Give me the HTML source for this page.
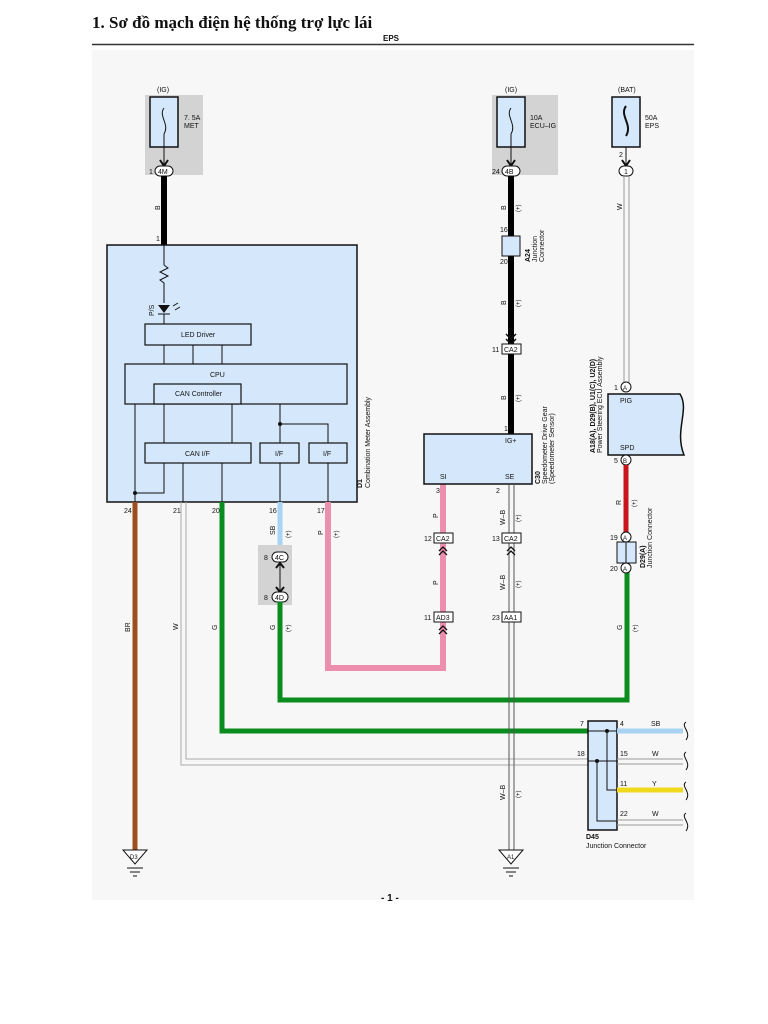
<!DOCTYPE html>
<html><head><meta charset="utf-8"><style>
html,body{margin:0;padding:0;background:#fff;width:768px;height:1024px;overflow:hidden}
svg{display:block}
text{font-family:"Liberation Sans",sans-serif;fill:#111}
.s{font-size:7px}
.m{font-size:8px}
</style></head><body>
<svg width="768" height="1024" viewBox="0 0 768 1024" xmlns="http://www.w3.org/2000/svg">
<rect x="92" y="50" width="602" height="850" fill="#f7f7f7"/>
<text x="92" y="28" style="font-family:'Liberation Serif',serif;font-weight:bold;font-size:17px">1. Sơ đồ mạch điện hệ thống trợ lực lái</text>
<text x="383" y="41" style="font-size:8px;font-weight:bold">EPS</text>
<line x1="92" y1="44.5" x2="694" y2="44.5" stroke="#333" stroke-width="1.5"/>

<!-- left fuse -->
<rect x="145" y="95" width="58" height="80" fill="#d3d3d3"/>
<rect x="150" y="97" width="28" height="50" fill="#d5e8fb" stroke="#111" stroke-width="1.5"/>
<path d="M164 108 C158 116 170 124 164 134" fill="none" stroke="#111"/>
<text x="157" y="92" class="s">(IG)</text>
<text x="184" y="120" class="s">7. 5A</text><text x="184" y="128" class="s">MET</text>
<line x1="164" y1="134" x2="164" y2="165" stroke="#111"/>
<path d="M160 160 L164 166 L168 160" fill="none" stroke="#111" stroke-width="2"/>
<rect x="155" y="166" width="18" height="10" rx="5" fill="#fff" stroke="#111"/>
<text x="158" y="174" class="s">4M</text><text x="149" y="174" class="s">1</text>
<line x1="164" y1="176" x2="164" y2="245" stroke="#000" stroke-width="6"/>
<text x="160" y="210" class="s" transform="rotate(-90 160 210)">B</text>
<text x="156" y="241" class="s">1</text>

<!-- D1 box -->
<rect x="107" y="245" width="250" height="257" fill="#d5e8fb" stroke="#111" stroke-width="1.5"/>
<line x1="164" y1="245" x2="164" y2="265" stroke="#111"/>
<path d="M164 265 l4 3 l-8 4 l8 4 l-8 4 l4 3 v20" fill="none" stroke="#111"/>
<path d="M158 305 h12 l-6 8 z" fill="#111"/><line x1="158" y1="314" x2="170" y2="314" stroke="#111"/>
<line x1="164" y1="314" x2="164" y2="324" stroke="#111"/>
<path d="M173 306 l5 -3 M175 310 l5 -3" stroke="#111"/>
<text x="154" y="316" class="s" transform="rotate(-90 154 316)">P/S</text>
<rect x="145" y="324" width="106" height="21" fill="#d5e8fb" stroke="#111" stroke-width="1.2"/>
<text x="181" y="337" class="s">LED Driver</text>
<line x1="164" y1="345" x2="164" y2="364" stroke="#111"/>
<line x1="193" y1="345" x2="193" y2="364" stroke="#111"/>
<line x1="222" y1="345" x2="222" y2="364" stroke="#111"/>
<rect x="125" y="364" width="222" height="40" fill="#d5e8fb" stroke="#111" stroke-width="1.2"/>
<text x="210" y="377" class="s">CPU</text>
<rect x="154" y="384" width="87" height="20" fill="#d5e8fb" stroke="#111" stroke-width="1.2"/>
<text x="175" y="396" class="s">CAN Controller</text>
<line x1="135" y1="404" x2="135" y2="502" stroke="#111"/>
<line x1="164" y1="404" x2="164" y2="443" stroke="#111"/>
<line x1="232" y1="404" x2="232" y2="443" stroke="#111"/>
<line x1="280" y1="404" x2="280" y2="443" stroke="#111"/>
<polyline points="280,424 328,424 328,443" fill="none" stroke="#111"/>
<circle cx="280" cy="424" r="2" fill="#111"/>
<rect x="145" y="443" width="106" height="20" fill="#d5e8fb" stroke="#111" stroke-width="1.2"/>
<text x="185" y="456" class="s">CAN I/F</text>
<rect x="260" y="443" width="39" height="20" fill="#d5e8fb" stroke="#111" stroke-width="1.2"/>
<text x="275" y="456" class="s">I/F</text>
<rect x="309" y="443" width="38" height="20" fill="#d5e8fb" stroke="#111" stroke-width="1.2"/>
<text x="323" y="456" class="s">I/F</text>
<polyline points="164,463 164,493 135,493" fill="none" stroke="#111"/>
<circle cx="135" cy="493" r="2" fill="#111"/>
<line x1="183" y1="463" x2="183" y2="502" stroke="#111"/>
<line x1="222" y1="463" x2="222" y2="502" stroke="#111"/>
<line x1="280" y1="463" x2="280" y2="502" stroke="#111"/>
<line x1="328" y1="463" x2="328" y2="502" stroke="#111"/>
<text x="362" y="488" class="s" transform="rotate(-90 362 488)" font-weight="bold">D1</text>
<text x="370" y="488" class="s" transform="rotate(-90 370 488)">Combination Meter Assembly</text>
<text x="124" y="513" class="s">24</text><text x="173" y="513" class="s">21</text>
<text x="212" y="513" class="s">20</text><text x="269" y="513" class="s">16</text><text x="317" y="513" class="s">17</text>

<!-- brown -->
<line x1="135" y1="502" x2="135" y2="850" stroke="#9b4f1e" stroke-width="5"/>
<text x="130" y="632" class="s" transform="rotate(-90 130 632)">BR</text>
<path d="M123 850 h24 l-12 14 z" fill="#fff" stroke="#111"/><text x="130" y="859" style="font-size:6px">D3</text>
<path d="M127 868 h16 M130 872 h10 M133 876 h4" stroke="#111"/>

<!-- W wire from 21 -->
<polyline points="181,502 181,765 588,765" fill="none" stroke="#aaa" stroke-width="1"/>
<polyline points="186,502 186,759 588,759" fill="none" stroke="#aaa" stroke-width="1"/>
<text x="178" y="630" class="s" transform="rotate(-90 178 630)">W</text>
<!-- green from 20 -->
<polyline points="222,502 222,731 590,731" fill="none" stroke="#0a8c1e" stroke-width="5"/>
<text x="217" y="630" class="s" transform="rotate(-90 217 630)">G</text>

<!-- SB/4C/4D -->
<line x1="280" y1="502" x2="280" y2="552" stroke="#a9d3f2" stroke-width="5"/>
<text x="275" y="535" class="s" transform="rotate(-90 275 535)">SB</text>
<text x="290" y="538" style="font-size:6px" transform="rotate(-90 290 538)">(+)</text>
<rect x="258" y="545" width="34" height="60" fill="#d3d3d3"/>
<rect x="272" y="552" width="16" height="10" rx="5" fill="#fff" stroke="#111"/><text x="275" y="560" class="s">4C</text>
<text x="264" y="560" class="s">8</text>
<line x1="280" y1="562" x2="280" y2="592" stroke="#111"/>
<path d="M276 568 l4 -5 l4 5 M276 587 l4 5 l4 -5" fill="none" stroke="#111" stroke-width="2"/>
<rect x="272" y="592" width="16" height="10" rx="5" fill="#fff" stroke="#111"/><text x="275" y="600" class="s">4D</text>
<text x="264" y="600" class="s">8</text>
<polyline points="280,602 280,700 627,700 627,570" fill="none" stroke="#0a8c1e" stroke-width="5"/>
<text x="275" y="630" class="s" transform="rotate(-90 275 630)">G</text>
<text x="290" y="632" style="font-size:6px" transform="rotate(-90 290 632)">(+)</text>
<text x="622" y="630" class="s" transform="rotate(-90 622 630)">G</text>
<text x="637" y="632" style="font-size:6px" transform="rotate(-90 637 632)">(+)</text>

<!-- pink -->
<polyline points="328,502 328,668 443,668 443,484" fill="none" stroke="#ec8eae" stroke-width="6"/>
<text x="323" y="535" class="s" transform="rotate(-90 323 535)">P</text>
<text x="338" y="538" style="font-size:6px" transform="rotate(-90 338 538)">(+)</text>
<text x="438" y="518" class="s" transform="rotate(-90 438 518)">P</text>
<text x="438" y="585" class="s" transform="rotate(-90 438 585)">P</text>
<text x="436" y="493" class="s">3</text>
<rect x="434" y="533" width="19" height="10" fill="#fff" stroke="#111"/><text x="436" y="541" class="s">CA2</text>
<text x="424" y="541" class="s">12</text>
<path d="M439 551 l4 -4 l4 4 M439 555 l4 -4 l4 4" fill="none" stroke="#111" stroke-width="1.3"/>
<rect x="434" y="612" width="19" height="10" fill="#fff" stroke="#111"/><text x="436" y="620" class="s">AD3</text>
<text x="424" y="620" class="s">11</text>
<path d="M439 630 l4 -4 l4 4 M439 634 l4 -4 l4 4" fill="none" stroke="#111" stroke-width="1.3"/>

<!-- middle fuse -->
<rect x="492" y="95" width="66" height="80" fill="#d3d3d3"/>
<rect x="497" y="97" width="28" height="50" fill="#d5e8fb" stroke="#111" stroke-width="1.5"/>
<path d="M511 108 C505 116 517 124 511 134" fill="none" stroke="#111"/>
<text x="505" y="92" class="s">(IG)</text>
<text x="530" y="120" class="s">10A</text><text x="530" y="128" class="s">ECU–IG</text>
<line x1="511" y1="134" x2="511" y2="165" stroke="#111"/>
<path d="M507 160 L511 166 L515 160" fill="none" stroke="#111" stroke-width="2"/>
<rect x="502" y="166" width="18" height="10" rx="5" fill="#fff" stroke="#111"/>
<text x="505" y="174" class="s">4B</text><text x="492" y="174" class="s">24</text>
<line x1="511" y1="176" x2="511" y2="434" stroke="#000" stroke-width="6"/>
<text x="506" y="210" class="s" transform="rotate(-90 506 210)">B</text>
<text x="520" y="212" style="font-size:6px" transform="rotate(-90 520 212)">(+)</text>
<text x="500" y="232" class="s">16</text>
<rect x="502" y="236" width="18" height="20" fill="#d5e8fb" stroke="#111"/>
<text x="500" y="264" class="s">20</text>
<text x="530" y="262" class="s" font-weight="bold" transform="rotate(-90 530 262)">A24</text>
<text x="537" y="262" class="s" transform="rotate(-90 537 262)">Junction</text>
<text x="544" y="262" class="s" transform="rotate(-90 544 262)">Connector</text>
<text x="506" y="305" class="s" transform="rotate(-90 506 305)">B</text>
<text x="520" y="307" style="font-size:6px" transform="rotate(-90 520 307)">(+)</text>
<path d="M506 334 l5 5 l5 -5 M506 339 l5 5 l5 -5" fill="none" stroke="#111" stroke-width="1.5"/>
<rect x="502" y="344" width="19" height="10" fill="#fff" stroke="#111"/><text x="504" y="352" class="s">CA2</text>
<text x="492" y="352" class="s">11</text>
<text x="506" y="400" class="s" transform="rotate(-90 506 400)">B</text>
<text x="520" y="402" style="font-size:6px" transform="rotate(-90 520 402)">(+)</text>
<text x="504" y="431" class="s">1</text>
<!-- C30 -->
<rect x="424" y="434" width="108" height="50" fill="#d5e8fb" stroke="#111" stroke-width="1.5"/>
<text x="505" y="443" class="s">IG+</text>
<text x="440" y="479" class="s">SI</text><text x="505" y="479" class="s">SE</text>
<text x="540" y="484" class="s" font-weight="bold" transform="rotate(-90 540 484)">C30</text>
<text x="547" y="484" class="s" transform="rotate(-90 547 484)">Speedometer Drive Gear</text>
<text x="554" y="484" class="s" transform="rotate(-90 554 484)">(Speedometer Sensor)</text>
<text x="496" y="493" class="s">2</text>
<!-- SE W-B -->
<line x1="509" y1="484" x2="509" y2="852" stroke="#555"/>
<line x1="514" y1="484" x2="514" y2="852" stroke="#555"/>
<text x="505" y="525" class="s" transform="rotate(-90 505 525)">W–B</text>
<text x="520" y="522" style="font-size:6px" transform="rotate(-90 520 522)">(+)</text>
<rect x="502" y="533" width="19" height="10" fill="#fff" stroke="#111"/><text x="504" y="541" class="s">CA2</text>
<text x="492" y="541" class="s">13</text>
<path d="M507 551 l4 -4 l4 4 M507 555 l4 -4 l4 4" fill="none" stroke="#111" stroke-width="1.3"/>
<text x="505" y="590" class="s" transform="rotate(-90 505 590)">W–B</text>
<text x="520" y="588" style="font-size:6px" transform="rotate(-90 520 588)">(+)</text>
<rect x="502" y="612" width="19" height="10" fill="#fff" stroke="#111"/><text x="504" y="620" class="s">AA1</text>
<text x="492" y="620" class="s">23</text>
<text x="505" y="800" class="s" transform="rotate(-90 505 800)">W–B</text>
<text x="520" y="798" style="font-size:6px" transform="rotate(-90 520 798)">(+)</text>
<path d="M499 850 h24 l-12 14 z" fill="#fff" stroke="#111"/><text x="507" y="859" style="font-size:6px">A1</text>
<path d="M503 868 h16 M506 872 h10 M509 876 h4" stroke="#111"/>

<!-- right fuse -->
<rect x="612" y="97" width="28" height="50" fill="#d5e8fb" stroke="#111" stroke-width="1.5"/>
<path d="M626 106 C619 116 633 124 626 136" fill="none" stroke="#111" stroke-width="2"/>
<text x="618" y="92" class="s">(BAT)</text>
<text x="645" y="120" class="s">50A</text><text x="645" y="128" class="s">EPS</text>
<line x1="626" y1="147" x2="626" y2="165" stroke="#111"/>
<path d="M622 160 L626 166 L630 160" fill="none" stroke="#111" stroke-width="2"/>
<text x="619" y="157" class="s">2</text>
<rect x="619" y="166" width="14" height="10" rx="5" fill="#fff" stroke="#111"/><text x="624" y="174" class="s">1</text>
<line x1="624" y1="176" x2="624" y2="382" stroke="#999"/>
<line x1="629" y1="176" x2="629" y2="382" stroke="#999"/>
<text x="622" y="210" class="s" transform="rotate(-90 622 210)">W</text>
<text x="595" y="453" class="s" font-weight="bold" transform="rotate(-90 595 453)">A18(A), D29(B), U1(C), U2(D)</text>
<text x="602" y="453" class="s" transform="rotate(-90 602 453)">Power Steering ECU Assembly</text>
<path d="M608 394 H680 C690 410 674 430 684 455 H608 Z" fill="#d5e8fb" stroke="#111" stroke-width="1.5"/>
<circle cx="626" cy="387" r="5" fill="#fff" stroke="#111"/><text x="623" y="390" style="font-size:6px">A</text>
<text x="614" y="390" class="s">1</text>
<text x="620" y="403" class="s">PIG</text><text x="620" y="450" class="s">SPD</text>
<circle cx="626" cy="460" r="5" fill="#fff" stroke="#111"/><text x="623" y="463" style="font-size:6px">B</text>
<text x="614" y="463" class="s">5</text>
<line x1="626" y1="465" x2="626" y2="533" stroke="#c8151b" stroke-width="5"/>
<text x="621" y="505" class="s" transform="rotate(-90 621 505)">R</text>
<text x="636" y="507" style="font-size:6px" transform="rotate(-90 636 507)">(+)</text>
<circle cx="626" cy="537" r="5" fill="#fff" stroke="#111"/><text x="623" y="540" style="font-size:6px">A</text>
<text x="610" y="540" class="s">19</text>
<rect x="617" y="542" width="19" height="21" fill="#d5e8fb" stroke="#111"/>
<line x1="626" y1="542" x2="626" y2="563" stroke="#111"/>
<circle cx="626" cy="568" r="5" fill="#fff" stroke="#111"/><text x="623" y="571" style="font-size:6px">A</text>
<text x="610" y="571" class="s">20</text>
<text x="645" y="568" class="s" font-weight="bold" transform="rotate(-90 645 568)">D29(A)</text>
<text x="652" y="568" class="s" transform="rotate(-90 652 568)">Junction Connector</text>

<!-- D45 -->
<rect x="588" y="721" width="29" height="109" fill="#d5e8fb" stroke="#111" stroke-width="1.5"/>
<line x1="588" y1="731" x2="617" y2="731" stroke="#111"/>
<line x1="588" y1="761" x2="617" y2="761" stroke="#111"/>
<polyline points="607,731 607,790 617,790" fill="none" stroke="#111"/>
<polyline points="597,761 597,821 617,821" fill="none" stroke="#111"/>
<circle cx="607" cy="731" r="2" fill="#111"/><circle cx="597" cy="761" r="2" fill="#111"/>
<text x="580" y="726" class="s">7</text><text x="577" y="756" class="s">18</text>
<text x="620" y="726" class="s">4</text><text x="620" y="756" class="s">15</text>
<text x="620" y="786" class="s">11</text><text x="620" y="816" class="s">22</text>
<line x1="617" y1="731" x2="683" y2="731" stroke="#a9d3f2" stroke-width="5"/>
<line x1="617" y1="759" x2="683" y2="759" stroke="#999"/><line x1="617" y1="764" x2="683" y2="764" stroke="#999"/>
<line x1="617" y1="790" x2="683" y2="790" stroke="#f0d91c" stroke-width="5"/>
<line x1="617" y1="820" x2="683" y2="820" stroke="#999"/><line x1="617" y1="825" x2="683" y2="825" stroke="#999"/>
<text x="651" y="726" class="s">SB</text><text x="652" y="756" class="s">W</text>
<text x="652" y="786" class="s">Y</text><text x="652" y="816" class="s">W</text>
<path d="M686 722 c-6 4 6 10 0 18 M686 752 c-6 4 6 10 0 18 M686 782 c-6 4 6 10 0 18 M686 813 c-6 4 6 10 0 18" fill="none" stroke="#111"/>
<text x="586" y="839" class="s" font-weight="bold">D45</text>
<text x="586" y="848" class="s">Junction Connector</text>

<text x="381" y="901" style="font-size:10px;font-weight:bold">- 1 -</text>
</svg>
</body></html>
